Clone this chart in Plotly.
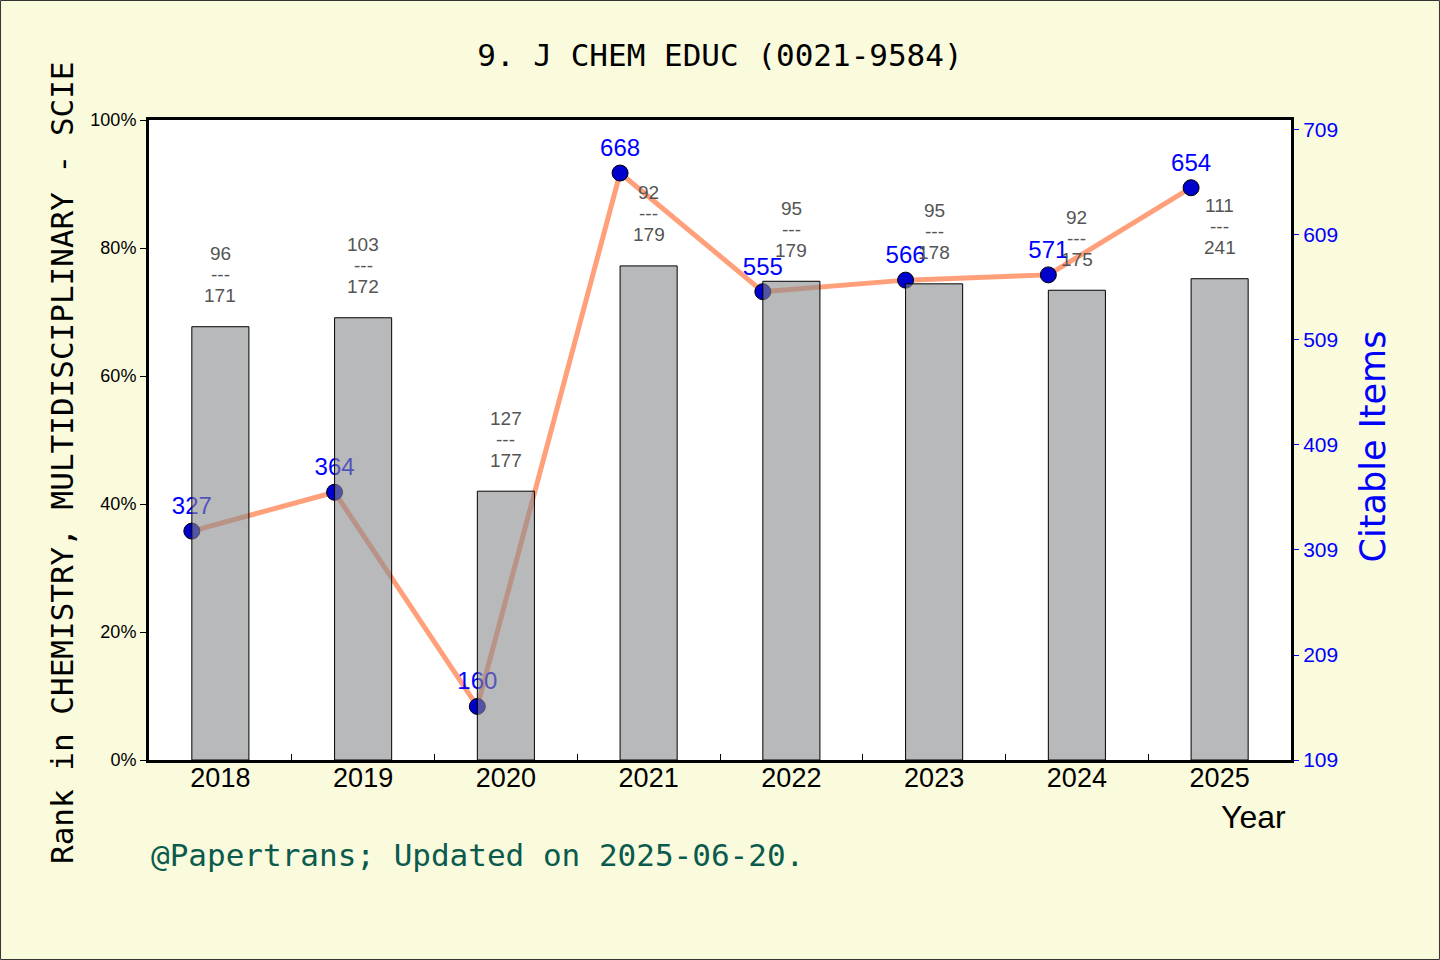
import plotly.graph_objects as go

years = [2018, 2019, 2020, 2021, 2022, 2023, 2024, 2025]
rank = [96, 103, 127, 92, 95, 95, 92, 111]
total = [171, 172, 177, 179, 179, 178, 175, 241]
rank_pct = [67.7, 69.1, 42.0, 77.2, 74.8, 74.4, 73.4, 75.2]
citable = [327, 364, 160, 668, 555, 566, 571, 654]

mono = "DejaVu Sans Mono"
sans = "Liberation Sans, Arial, sans-serif"
bar_w = 0.4

fig = go.Figure()

# citable items line (drawn under the bars)
fig.add_trace(go.Scatter(
    x=[y - bar_w / 2 for y in years],
    y=citable,
    mode="lines+markers+text",
    text=[str(v) for v in citable],
    textposition="top center",
    textfont=dict(family=sans, size=24, color="#0000FF"),
    line=dict(color="#FFA07A", width=5),
    marker=dict(size=16, color="#0000CC", line=dict(color="black", width=1)),
    yaxis="y",
    showlegend=False,
))

# rank percentage bars
fig.add_trace(go.Bar(
    x=years,
    y=rank_pct,
    width=bar_w,
    marker=dict(color="rgba(137,139,141,0.6)", line=dict(color="black", width=1)),
    yaxis="y2",
    showlegend=False,
))

# rank / total labels above the bars
for yr, r, t, p in zip(years, rank, total, rank_pct):
    for txt, shift in ((str(r), 73), ("---", 52), (str(t), 31)):
        fig.add_annotation(
            x=yr, y=p, xref="x", yref="y2", text=txt, showarrow=False,
            yshift=shift, yanchor="middle",
            font=dict(family=sans, size=19, color="#555555"),
        )

fig.add_annotation(
    x=-0.0762, y=0.4656, xref="paper", yref="paper", textangle=-90,
    xanchor="center", yanchor="middle",
    text="Rank in CHEMISTRY, MULTIDISCIPLINARY - SCIE", showarrow=False,
    font=dict(family=mono, size=31, color="black"),
)
fig.add_annotation(
    x=1.0718, y=0.49, xref="paper", yref="paper", textangle=-90,
    xanchor="center", yanchor="middle",
    text="Citable Items", showarrow=False,
    font=dict(family="DejaVu Sans", size=35, color="#0000FF"),
)
fig.add_annotation(
    x=0.9974, y=-0.089, xref="paper", yref="paper",
    xanchor="right", yanchor="middle",
    text="Year", showarrow=False,
    font=dict(family=sans, size=32, color="black"),
)
fig.add_annotation(
    x=0.0, y=-0.1484, xref="paper", yref="paper",
    xanchor="left", yanchor="middle",
    text="@Papertrans; Updated on 2025-06-20.", showarrow=False,
    font=dict(family=mono, size=31, color="#0B5A4E"),
)

# thin border round the whole picture
fig.add_shape(
    type="rect", xref="paper", yref="paper",
    x0=-0.1300, x1=1.1300, y0=-0.3117, y1=1.1867,
    line=dict(color="#333333", width=1), layer="below",
)

fig.update_layout(
    width=1440, height=960,
    margin=dict(l=149, r=149, t=120, b=200),
    paper_bgcolor="#FAFADC",
    plot_bgcolor="white",
    title=dict(
        text="9. J CHEM EDUC (0021-9584)", x=0.5, xanchor="center",
        y=1 - 55 / 960, yanchor="middle",
        font=dict(family=mono, size=31, color="black"),
    ),
    xaxis=dict(
        range=[years[0] - 0.5, years[-1] + 0.5],
        tickvals=years, ticktext=[str(y) for y in years],
        ticks="", showgrid=False, zeroline=False,
        showline=True, linecolor="black", linewidth=3, mirror=True,
        ticklabelstandoff=-8,
        tickfont=dict(family=sans, size=27, color="black"),
        minor=dict(tickvals=[y + 0.5 for y in years[:-1]], ticks="inside",
                   ticklen=6, tickcolor="black", showgrid=False),
    ),
    yaxis=dict(
        side="right", range=[109, 718.5], tick0=109, dtick=100,
        ticks="outside", ticklen=5, tickcolor="#0000FF",
        showgrid=False, zeroline=False,
        showline=True, linecolor="black", linewidth=3,
        tickfont=dict(family=sans, size=21, color="#0000FF"),
    ),
    yaxis2=dict(
        overlaying="y", side="left", range=[0, 100], dtick=20,
        ticksuffix="%", ticks="outside", ticklen=6, tickcolor="black",
        showgrid=False, zeroline=False,
        showline=True, linecolor="black", linewidth=3,
        tickfont=dict(family=sans, size=18, color="black"),
    ),
)

fig.write_html(
    "out.html",
    config={"displayModeBar": False},
    post_script="document.body.style.margin='0';",
)
